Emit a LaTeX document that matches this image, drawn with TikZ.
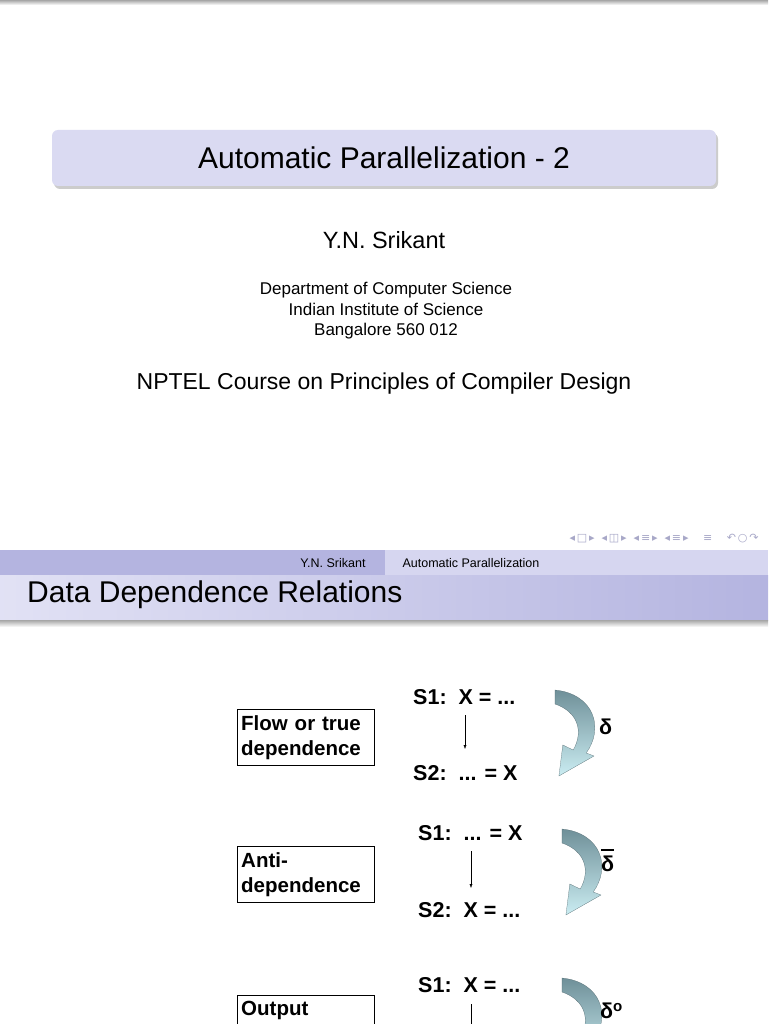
\documentclass[tikz,border=0pt]{standalone}
\usepackage{fontspec}
\setmainfont{Liberation Sans}
\newfontfamily\symfont{DejaVu Sans}
\usetikzlibrary{shadows,arrows.meta}
\definecolor{lav}{HTML}{DADAF2}
\definecolor{hdark}{HTML}{B4B4E0}
\definecolor{hlight}{HTML}{D6D6F0}
\definecolor{navg}{HTML}{A8A8C8}
\definecolor{arrtop}{HTML}{6F9099}
\definecolor{arrbot}{HTML}{CBEDF2}
\tikzset{
  fs/.style={font=\fontsize{#1}{#1}\selectfont},
  lbox/.style={draw, thin, font=\bfseries\fontsize{20.5}{25}\selectfont, align=left, inner xsep=4pt, inner ysep=3pt, anchor=north west, text width=129pt, minimum height=56pt},
  stmt/.style={font=\bfseries\fontsize{21.5}{21.5}\selectfont, anchor=west, inner sep=0pt},
  dep/.style={-{Latex[length=4pt,width=3pt]}, thin}
}
\newcommand{\curvarrow}[2]{%
  \shade[top color=arrtop, bottom color=arrbot, draw=arrtop!70!black, very thin, shift={(#1,#2)}, xscale=1.3]
   (0,0) .. controls (30,4) and (38,38) .. (24,63) -- (30,66) -- (3,86) -- (6,55) -- (14,60)
   .. controls (22,42) and (18,22) .. (0,14) -- cycle;}
\begin{document}
\begin{tikzpicture}[x=1pt,y=-1pt]
\useasboundingbox (0,0) rectangle (768,1024);
\clip (0,0) rectangle (768,1024);
\fill[white] (0,0) rectangle (768,1024);
\shade[top color=gray!70, bottom color=white] (0,0) rectangle (768,5);
% title slide
\node[fill=lav, rounded corners=6pt, minimum width=664pt, minimum height=56pt, drop shadow={shadow xshift=2pt,shadow yshift=-3pt,opacity=0.4}] (tbox) at (384,158) {};
\node[fs=30] (title) at (tbox) {Automatic Parallelization - 2};
\node[fs=23.5] (author) at (384,240) {Y.N. Srikant};
\node[font=\fontsize{17}{20.5}\selectfont, align=center] (inst) at (386,311) {Department of Computer Science\\Indian Institute of Science\\Bangalore 560 012};
\node[fs=23] (course) at (384,384) {NPTEL Course on Principles of Compiler Design};
\node[font=\symfont\fontsize{11}{11}\selectfont, text=navg, anchor=east] (nav1) at (762,539) {◂\,□\,▸ \ ◂\,◫\,▸ \ ◂\,≡\,▸ \ ◂\,≡\,▸ \quad ≡ \quad ↶\,○\,↷};
% second slide header
\fill[hdark] (0,550) rectangle (385,575);
\fill[hlight] (385,550) rectangle (768,575);
\node[fs=12.5] (hauth) at (333,563) {Y.N. Srikant};
\node[fs=12.5, anchor=west] (htitle) at (399,563) {Automatic Parallelization};
\shade[left color=lav!80!white, right color=hdark] (0,575) rectangle (768,620);
\shade[top color=black!35, bottom color=white] (0,620) rectangle (768,627);
\node[fs=30, anchor=west, inner sep=0pt] (ftitle) at (27,595) {Data Dependence Relations};
% boxes
\node[lbox] (b1) at (237,709) {Flow or true\\dependence};
\node[lbox] (b2) at (237,846) {Anti-\\dependence};
\node[lbox] (b3) at (237,995) {Output\\dependence};
% statements
\node[stmt] (s11) at (413,697) {S1:\ \ X = ...};
\node[stmt] (s12) at (413,773) {S2:\ \ ... = X};
\coordinate (a1s) at (465,715); \coordinate (a1e) at (465,749);
\draw[dep] (a1s) -- (a1e);
\node[stmt] (s21) at (418,833) {S1:\ \ ... = X};
\node[stmt] (s22) at (418,910) {S2:\ \ X = ...};
\coordinate (a2s) at (471,851); \coordinate (a2e) at (471,888);
\draw[dep] (a2s) -- (a2e);
\node[stmt] (s31) at (418,985) {S1:\ \ X = ...};
\coordinate (a3s) at (471,1004); \coordinate (a3e) at (471,1040);
\draw[thin] (a3s) -- (a3e);
% curved arrows
\curvarrow{555}{690}
\curvarrow{562}{829}
\curvarrow{562}{978}
\node[stmt] (d1) at (599,727) {δ};
\node[stmt] (d2) at (601,864) {δ};
\draw[line width=1.3pt] (601,850) -- (614,850);
\node[stmt] (d3) at (600,1011) {δ\textsuperscript{o}};
\end{tikzpicture}
\end{document}
